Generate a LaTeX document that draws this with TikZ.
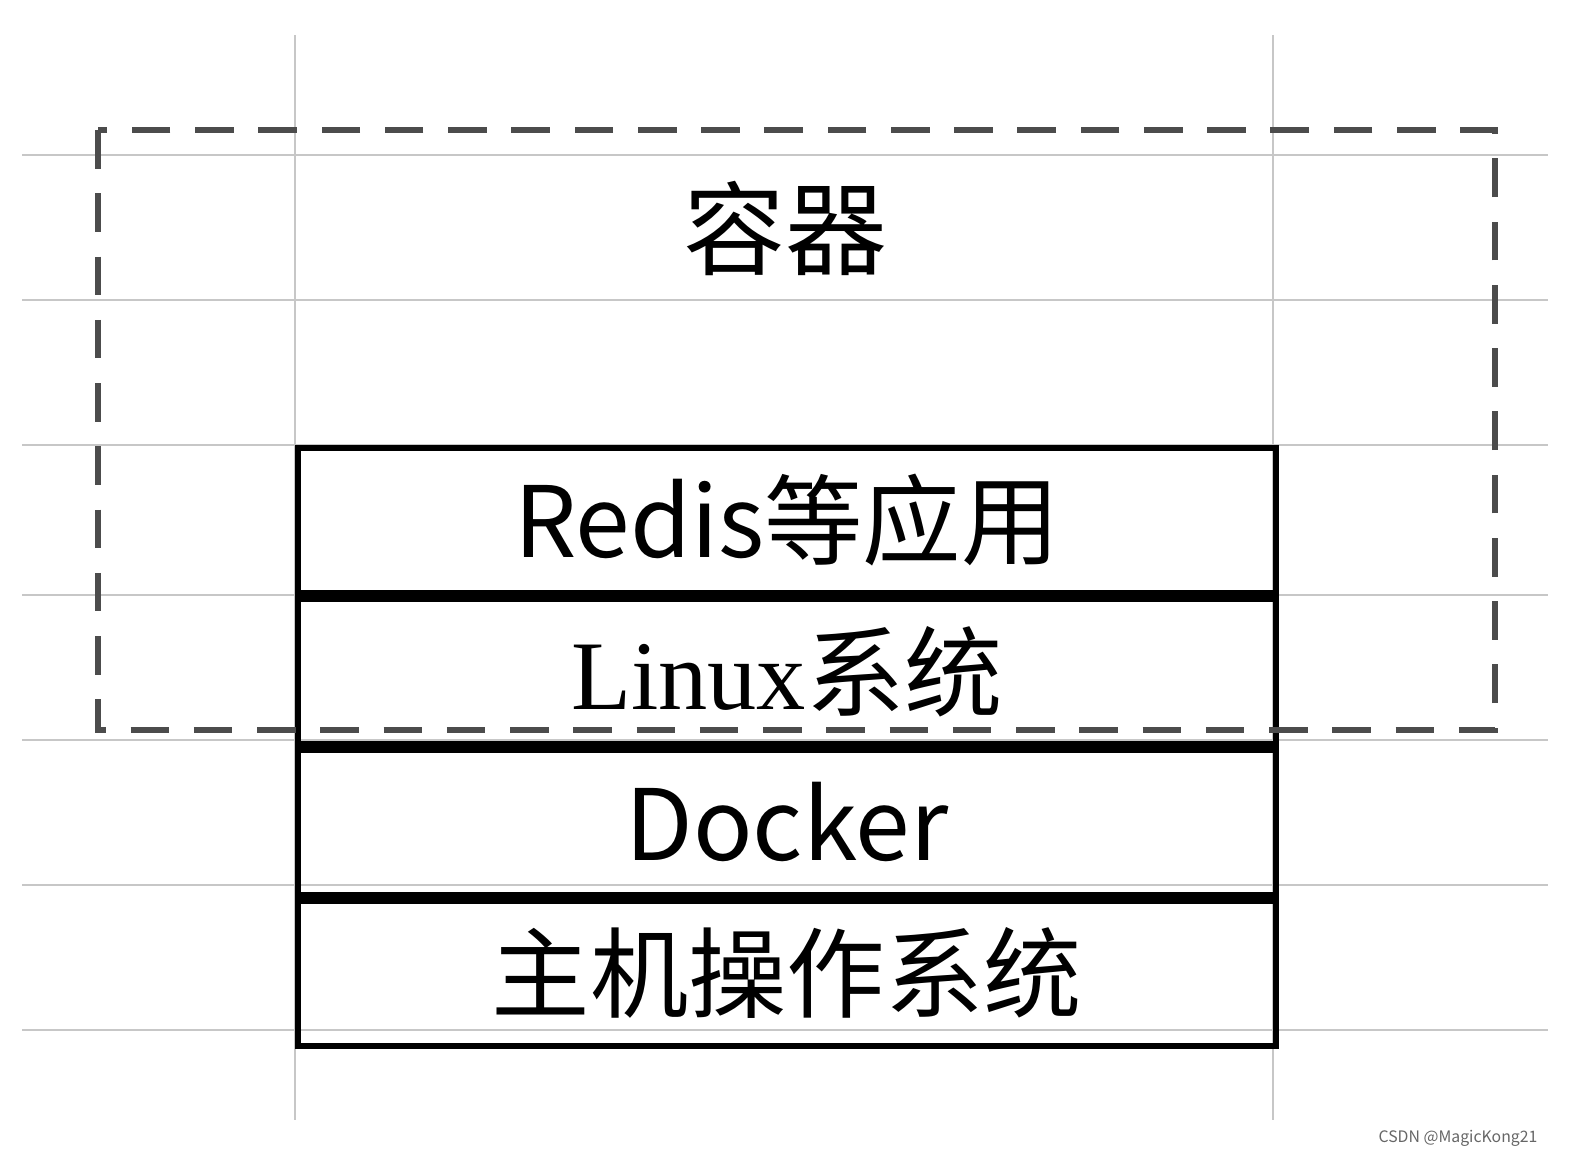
\documentclass[tikz,border=0pt]{standalone}
\usepackage{fontspec}
\setmainfont{Noto Sans CJK SC}
\newfontfamily\serifrm{Liberation Serif}
\usetikzlibrary{positioning, fit, backgrounds}

\begin{document}
\begin{tikzpicture}[x=0.02cm, y=-0.02cm,
            % Styles
            gridline/.style={draw=black!22, line width=1.2pt},
            layer/.style={rectangle, draw=black, line width=3.4pt, minimum width=19.56cm, minimum height=2.9cm, inner sep=0pt, font=\fontsize{56}{60}\selectfont},
            container/.style={draw=black!70, line width=3.4pt, dash pattern=on 22pt off 14pt}
        ]
        \useasboundingbox (0,0) rectangle (1584,1171);

        % Grid
        \foreach \y in {155,300,445,595,740,885,1030}
            \path [gridline] (22,\y) -- (1548,\y);
        \foreach \x in {295,1273}
            \path [gridline] (\x,35) -- (\x,1120);

        % Layers
        \node [layer, anchor=north west] (app) at (295,445) {Redis等应用};
        \node [layer, below=0pt of app] (linux) {{\serifrm Linux}系统};
        \node [layer, below=0pt of linux] (docker) {Docker};
        \node [layer, below=0pt of docker] (hostos) {主机操作系统};

        % Container
        \coordinate (cnw) at (98,130);
        \coordinate (cse) at (1495,730);
        \path [container] (cnw) rectangle (cse);
        \node [font=\fontsize{58}{62}\selectfont] (cname) at (785,228) {容器};

        % Watermark
        \node [font=\fontsize{9}{10}\selectfont, text=black!60] (mark) at (1458,1138) {CSDN @MagicKong21};
    \end{tikzpicture}
\end{document}
